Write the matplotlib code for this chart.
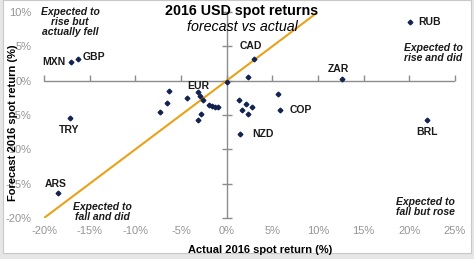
import matplotlib.pyplot as plt
from matplotlib.patches import Rectangle

plt.rcParams['font.family'] = ['Liberation Sans', 'DejaVu Sans']

# Datos: rendimiento real vs previsto (%)
currencies = ['MXN', 'GBP', 'TRY', 'ARS', 'RUB', 'ZAR', 'CAD', 'BRL', 'COP', 'NZD', 'EUR']
actual = [-17.0, -16.3, -17.2, -18.5, 20.1, 12.6, 3.0, 21.9, 5.8, 1.5, -3.1]
forecast = [2.7, 3.1, -5.4, -16.4, 8.6, 0.3, 3.2, -5.7, -4.3, -7.8, -1.6]

# Puntos sin etiqueta
other_actual = [0.0, 2.3, -6.3, -6.5, -7.3, -4.3, -2.9, -2.6, -1.9, -1.6, -1.3, -1.0,
                -2.8, -3.1, 1.4, 2.1, 2.8, 1.7, 2.3, 5.6]
other_forecast = [-0.2, 0.5, -1.5, -3.2, -4.6, -2.5, -2.3, -2.8, -3.6, -3.7, -3.8, -3.9,
                  -4.8, -5.8, -2.8, -3.4, -3.9, -4.2, -4.9, -1.9]

x_ticks = [-20, -15, -10, -5, 0, 5, 10, 15, 20, 25]
y_ticks = [-20, -15, -10, -5, 0, 5, 10]

# Desplazamiento de etiquetas (pixeles) y alineacion
label_pos = {
    'MXN': (-6, 0, 'right'), 'GBP': (5, 2, 'left'), 'TRY': (0, -12, 'center'),
    'ARS': (-2, 9, 'center'), 'RUB': (8, 0, 'left'), 'ZAR': (-3, 10, 'center'),
    'CAD': (-3, 13, 'center'), 'BRL': (0, -12, 'center'), 'COP': (10, 0, 'left'),
    'NZD': (12, 0, 'left'), 'EUR': (0, 6, 'center'),
}

fig = plt.figure(figsize=(4.74, 2.59), dpi=100, facecolor='#e6e6e6')
fig.patches.append(Rectangle((3 / 474, 6 / 259), 468 / 474, 253 / 259, transform=fig.transFigure,
                             facecolor='white', edgecolor='#c8c8c8', lw=0.8, zorder=-10))
ax = fig.add_axes([44 / 474, 1 - 218 / 259, 411 / 474, 206 / 259])
ax.set_facecolor('none')
ax.set_xlim(-20, 25)
ax.set_ylim(-20, 10)
for s in ax.spines.values():
    s.set_visible(False)

# Ejes en cero con marcas
axis_col = '#8c8c8c'
ax.axhline(0, color=axis_col, lw=1, zorder=1)
ax.axvline(0, color=axis_col, lw=1, zorder=1)
ax.plot(x_ticks, [0] * len(x_ticks), ls='none', marker=2, ms=4, mew=1, color=axis_col, clip_on=False)
ax.plot([0] * len(y_ticks), y_ticks, ls='none', marker='_', ms=7, mew=1, color=axis_col, clip_on=False)

ax.set_xticks(x_ticks)
ax.set_xticklabels([f'{t}%' for t in x_ticks])
ax.set_yticks(y_ticks)
ax.set_yticklabels([f'{t}%' for t in y_ticks])
ax.tick_params(length=0, labelsize=8, labelcolor='#959595', pad=6)
ax.tick_params(axis='y', pad=9)

# Linea 45 grados
ax.plot([-20, 9.8], [-20, 9.8], color='#e8a21a', lw=1.5, zorder=2)

mk_col = '#13234f'
ax.plot(other_actual, other_forecast, ls='none', marker='D', ms=2.4, color=mk_col, zorder=3)
ax.plot(actual, forecast, ls='none', marker='D', ms=2.4, color=mk_col, zorder=3)
for c, xv, yv in zip(currencies, actual, forecast):
    dx, dy, ha = label_pos[c]
    ax.annotate(c, (xv, yv), xytext=(dx, dy), textcoords='offset pixels', ha=ha, va='center',
                fontsize=7.5, fontweight='bold', color='#1a1a1a')

note = dict(fontsize=7.5, fontweight='bold', style='italic', ha='center', va='center',
            transform=fig.transFigure, color='#1a1a1a', linespacing=1.05)
fig.text(70 / 474, 1 - 22 / 259, 'Expected to\nrise but\nactually fell', **note)
fig.text(433 / 474, 1 - 53 / 259, 'Expected to\nrise and did', **note)
fig.text(102 / 474, 1 - 212 / 259, 'Expected to\nfall and did', **note)
fig.text(425 / 474, 1 - 207 / 259, 'Expected to\nfall but rose', **note)

fig.text(242 / 474, 1 - 11 / 259, '2016 USD spot returns', fontsize=10.3, fontweight='bold',
         ha='center', va='center')
fig.text(242 / 474, 1 - 27 / 259, 'forecast vs actual', fontsize=10.3, style='italic',
         ha='center', va='center')
fig.text(260 / 474, 1 - 250 / 259, 'Actual 2016 spot return (%)', fontsize=8, fontweight='bold',
         ha='center', va='center')
fig.text(13 / 474, 1 - 123 / 259, 'Forecast 2016 spot return (%)', fontsize=8, fontweight='bold',
         ha='center', va='center', rotation=90)

fig.savefig('out.png', dpi=100, facecolor=fig.get_facecolor())
